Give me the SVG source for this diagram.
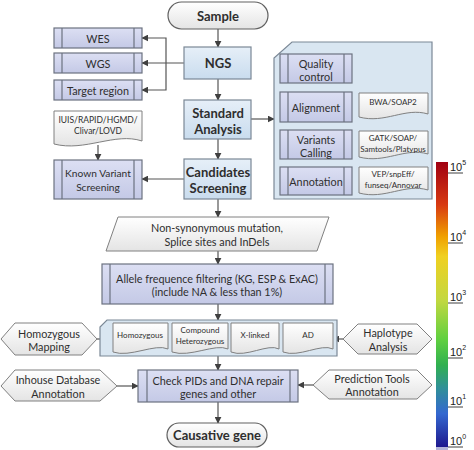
<svg xmlns="http://www.w3.org/2000/svg" width="474" height="450" viewBox="0 0 474 450">
<defs>
<linearGradient id="gBlue" x1="0" y1="0" x2="0" y2="1"><stop offset="0" stop-color="#e6eff8"/><stop offset="1" stop-color="#c9dcee"/></linearGradient>
<linearGradient id="gSub" x1="0" y1="0" x2="0" y2="1"><stop offset="0" stop-color="#dcdff3"/><stop offset="1" stop-color="#c4c9e6"/></linearGradient>
<linearGradient id="gWhite" x1="0" y1="0" x2="0" y2="1"><stop offset="0" stop-color="#ffffff"/><stop offset="1" stop-color="#e4e4e4"/></linearGradient>
<linearGradient id="gBar" x1="0" y1="0" x2="0" y2="1">
<stop offset="0" stop-color="#a00012"/><stop offset="0.15" stop-color="#d83a12"/><stop offset="0.26" stop-color="#f0a000"/><stop offset="0.33" stop-color="#f0d020"/><stop offset="0.48" stop-color="#c4d840"/><stop offset="0.62" stop-color="#60d040"/><stop offset="0.71" stop-color="#30b050"/><stop offset="0.79" stop-color="#309098"/><stop offset="0.88" stop-color="#3468d0"/><stop offset="1" stop-color="#1e168c"/>
</linearGradient>
<marker id="arr" viewBox="0 0 10 10" refX="9" refY="5" markerWidth="7" markerHeight="7" markerUnits="userSpaceOnUse" orient="auto"><path d="M0,0 L10,5 L0,10 z" fill="#404040"/></marker>
<style>
.bx{fill:url(#gBlue);stroke:#7b8896;stroke-width:1.2}
.sb{fill:url(#gSub);stroke:#6c7280;stroke-width:1.2}
.il{stroke:#6c7280;stroke-width:1.2;fill:none}
.dc{fill:url(#gWhite);stroke:#808080;stroke-width:1}
.pn{fill:#d9e6f1;stroke:#7b8896;stroke-width:1.2}
.tr{fill:url(#gWhite);stroke:#606060;stroke-width:1.2}
.t{font-family:Lato,"Open Sans","Liberation Sans",sans-serif;fill:#2e2e2e;text-anchor:middle;dominant-baseline:central}
.b{font-weight:bold;font-size:13px}
.m{font-size:10.8px}
.s{font-size:8px}
.cn{stroke:#555555;stroke-width:1.2;fill:none}
.tk{stroke:#404040;stroke-width:1}
.lb{font-family:"Liberation Sans",Arial,sans-serif;fill:#222;font-size:11px}
.sp{font-size:7px}
</style>
</defs>
<rect width="474" height="450" fill="#ffffff"/>

<g id="connectors">
<line class="cn" x1="218" y1="29" x2="218" y2="47" marker-end="url(#arr)"/>
<line class="cn" x1="218" y1="79" x2="218" y2="100" marker-end="url(#arr)"/>
<line class="cn" x1="218" y1="139" x2="218" y2="159" marker-end="url(#arr)"/>
<line class="cn" x1="218" y1="199" x2="218" y2="217" marker-end="url(#arr)"/>
<line class="cn" x1="184" y1="63" x2="142" y2="63" marker-end="url(#arr)"/>
<polyline class="cn" points="166,63 166,38 142,38" marker-end="url(#arr)"/>
<polyline class="cn" points="166,63 166,90 142,90" marker-end="url(#arr)"/>
<line class="cn" x1="98" y1="145" x2="98" y2="160" marker-end="url(#arr)"/>
<line class="cn" x1="184" y1="179" x2="142" y2="179" marker-end="url(#arr)"/>
<line class="cn" x1="251" y1="119" x2="274" y2="119" marker-end="url(#arr)"/>
<line class="cn" x1="218" y1="251" x2="218" y2="264" marker-end="url(#arr)"/>
<line class="cn" x1="218" y1="304" x2="218" y2="320" marker-end="url(#arr)"/>
<line class="cn" x1="97" y1="339" x2="113" y2="339" marker-end="url(#arr)"/>
<line class="cn" x1="343" y1="339" x2="333" y2="339" marker-end="url(#arr)"/>
<line class="cn" x1="218" y1="356" x2="218" y2="370" marker-end="url(#arr)"/>
<line class="cn" x1="117" y1="386" x2="138" y2="386" marker-end="url(#arr)"/>
<line class="cn" x1="313" y1="385" x2="298" y2="385" marker-end="url(#arr)"/>
<line class="cn" x1="218" y1="402" x2="218" y2="423" marker-end="url(#arr)"/>
</g>

<g id="sample"><rect class="tr" x="168" y="2" width="100" height="27" rx="13.5"/><text class="t b" x="218" y="16">Sample</text></g>
<g id="ngs"><rect class="bx" x="184" y="47" width="67" height="32"/><text class="t b" x="218" y="63">NGS</text></g>
<g id="standard"><rect class="bx" x="184" y="100" width="67" height="39"/><text class="t b" x="218" y="113">Standard</text><text class="t b" x="218" y="129">Analysis</text></g>
<g id="candidates"><rect class="bx" x="184" y="159" width="67" height="40"/><text class="t b" x="218" y="172">Candidates</text><text class="t b" x="218" y="188">Screening</text></g>

<g id="wes"><rect class="sb" x="54" y="28" width="88" height="20"/><path class="il" d="M62,28V48M134,28V48"/><text class="t m" x="98" y="38">WES</text></g>
<g id="wgs"><rect class="sb" x="54" y="53" width="88" height="20"/><path class="il" d="M62,53V73M134,53V73"/><text class="t m" x="98" y="63">WGS</text></g>
<g id="target"><rect class="sb" x="54" y="80" width="88" height="20"/><path class="il" d="M62,80V100M134,80V100"/><text class="t m" x="98" y="90">Target region</text></g>
<g id="databases"><path class="dc" d="M54,111H142V141C115,132 85,152 54,144Z"/><text class="t" style="font-size:8.5px" x="98" y="120">IUIS/RAPID/HGMD/</text><text class="t" style="font-size:8.5px" x="98" y="131">Clivar/LOVD</text></g>
<g id="known"><rect class="sb" x="54" y="160" width="88" height="39"/><path class="il" d="M62,160V199M134,160V199"/><text class="t" style="font-size:10.2px" x="98" y="173">Known Variant</text><text class="t" style="font-size:10.2px" x="98" y="187">Screening</text></g>

<g id="pipeline">
<path class="pn" d="M292,42H432V199H274V58Z"/>
<g id="qc"><rect class="sb" x="280" y="54" width="72" height="29"/><path class="il" d="M288,54V83M344,54V83"/><text class="t m" x="316" y="63">Quality</text><text class="t m" x="316" y="76">control</text></g>
<g id="alignment"><rect class="sb" x="280" y="92" width="72" height="30"/><path class="il" d="M288,92V122M344,92V122"/><text class="t m" x="316" y="107">Alignment</text></g>
<g id="variants"><rect class="sb" x="280" y="130" width="72" height="29"/><path class="il" d="M288,130V159M344,130V159"/><text class="t m" x="316" y="139">Variants</text><text class="t m" x="316" y="152">Calling</text></g>
<g id="annotation"><rect class="sb" x="280" y="167" width="72" height="28"/><path class="il" d="M288,167V195M344,167V195"/><text class="t m" x="316" y="181">Annotation</text></g>
<g id="bwa"><path class="dc" d="M359,93H428V114C405,107 385,124 359,117Z"/><text class="t s" x="393" y="102">BWA/SOAP2</text></g>
<g id="gatk"><path class="dc" d="M359,131H428V154C405,147 385,164 359,157Z"/><text class="t s" x="393" y="138">GATK/SOAP/</text><text class="t s" x="393" y="149">Samtools/Platypus</text></g>
<g id="vep"><path class="dc" d="M359,167H428V190C405,183 385,200 359,193Z"/><text class="t s" x="393" y="174">VEP/snpEff/</text><text class="t s" x="393" y="185">funseq/Annovar</text></g>
</g>

<g id="nonsyn"><path class="dc" d="M118,217H329L317,251H106Z"/><text class="t m" x="217" y="227">Non-synonymous mutation,</text><text class="t m" x="217" y="241">Splice sites and InDels</text></g>
<g id="allele"><rect class="sb" x="102" y="264" width="231" height="40"/><path class="il" d="M110,264V304M325,264V304"/><text class="t m" x="217" y="278">Allele frequence filtering (KG, ESP &amp; ExAC)</text><text class="t m" x="217" y="291">(include NA &amp; less than 1%)</text></g>

<g id="inheritance">
<path class="pn" d="M107,320H337V356H100V327Z"/>
<g id="homo"><path class="dc" d="M113,323H168V349C155,343 130,358 113,352Z"/><text class="t s" x="140" y="335">Homozygous</text></g>
<g id="compound"><path class="dc" d="M172,323H228V349C215,343 190,358 172,352Z"/><text class="t s" x="200" y="330">Compound</text><text class="t s" x="200" y="341">Heterozygous</text></g>
<g id="xlinked"><path class="dc" d="M231,323H279V349C268,343 246,358 231,352Z"/><text class="t s" x="255" y="335">X-linked</text></g>
<g id="ad"><path class="dc" d="M283,323H333V349C321,343 299,358 283,352Z"/><text class="t s" x="308" y="335">AD</text></g>
</g>

<g id="homomap"><path class="dc" d="M1,339L15,323H82L97,339L82,355H15Z"/><text class="t m" x="49" y="333">Homozygous</text><text class="t m" x="49" y="346">Mapping</text></g>
<g id="haplotype"><path class="dc" d="M343,339L358,324H417L432,339L417,354H358Z"/><text class="t m" x="388" y="332">Haplotype</text><text class="t m" x="388" y="346">Analysis</text></g>
<g id="check"><rect class="sb" x="138" y="370" width="160" height="32"/><path class="il" d="M147,370V402M290,370V402"/><text class="t m" x="218" y="380">Check PIDs and DNA repair</text><text class="t m" x="218" y="393">genes and other</text></g>
<g id="inhouse"><path class="dc" d="M1,386L15,370H100L117,386L100,401H15Z"/><text class="t m" x="58" y="379">Inhouse Database</text><text class="t m" x="58" y="393">Annotation</text></g>
<g id="prediction"><path class="dc" d="M313,385L329,370H417L432,385L417,399H329Z"/><text class="t m" x="372" y="378">Prediction Tools</text><text class="t m" x="372" y="391">Annotation</text></g>
<g id="causative"><rect class="tr" x="167" y="423" width="100" height="24" rx="12"/><text class="t b" x="217" y="435">Causative gene</text></g>

<g id="colorbar">
<rect x="436" y="162" width="12" height="286" fill="url(#gBar)"/>
<rect x="436" y="447" width="12" height="3" fill="#b4b4d8"/>
<path class="tk" d="M448,173H463M448,243H463M448,303H463M448,358H463M448,407H463M448,447H463"/>
<text class="lb" x="450" y="171">10<tspan class="sp" dy="-6">5</tspan></text>
<text class="lb" x="450" y="241">10<tspan class="sp" dy="-6">4</tspan></text>
<text class="lb" x="450" y="301">10<tspan class="sp" dy="-6">3</tspan></text>
<text class="lb" x="450" y="356">10<tspan class="sp" dy="-6">2</tspan></text>
<text class="lb" x="450" y="405">10<tspan class="sp" dy="-6">1</tspan></text>
<text class="lb" x="450" y="445">10<tspan class="sp" dy="-6">0</tspan></text>
</g>
</svg>
